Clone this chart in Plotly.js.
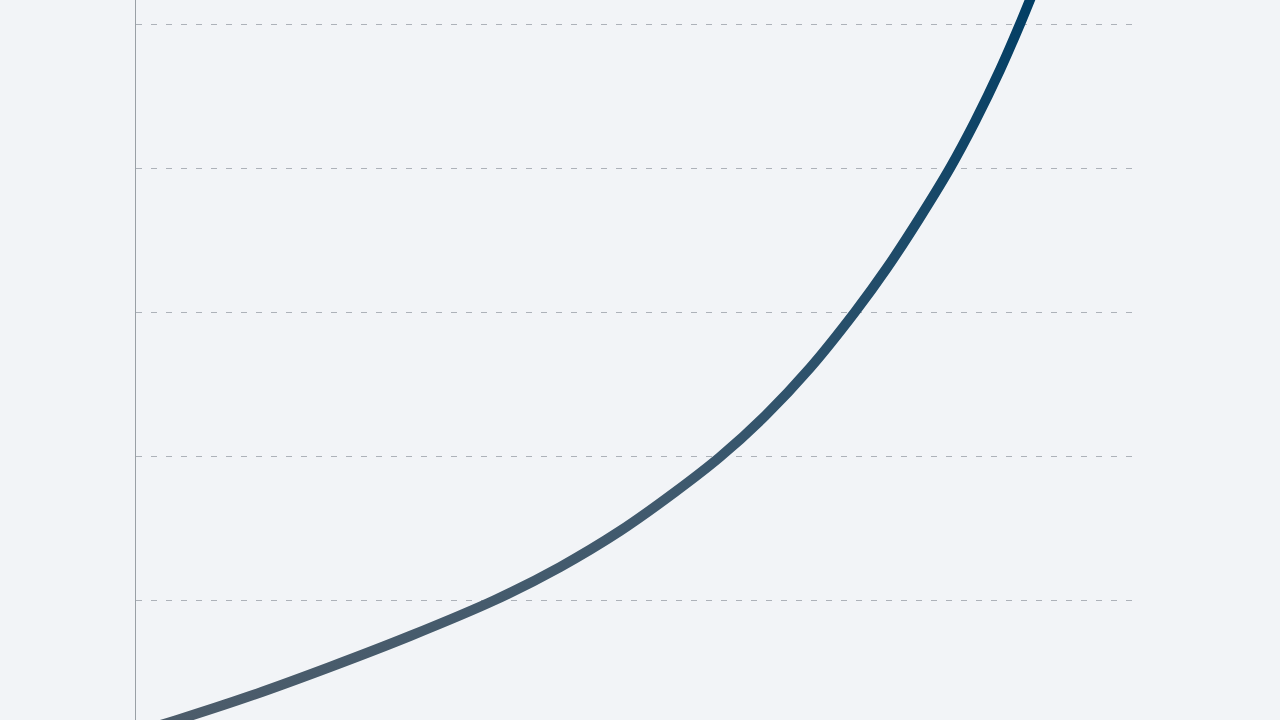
<!DOCTYPE html>
<html>
<head>
<meta charset="utf-8">
<script src="https://cdn.plot.ly/plotly-3.0.1.min.js"></script>
<style>
  html, body { margin: 0; padding: 0; background: #f2f4f7; overflow: hidden; }
  #chart { width: 1280px; height: 720px; }
</style>
</head>
<body>
<div id="chart"></div>
<script>
// curve (x: 0-100 across the plot, y: gridline units)
const xValues = [-0.60, 4.12, 11.45, 19.48, 27.51, 36.04, 42.57, 48.59, 54.12, 58.63,
	63.15, 67.67, 72.19, 75.40, 78.61, 81.73, 84.24, 86.75, 88.76, 90.76];
const yValues = [0.069, 0.167, 0.333, 0.535, 0.750, 1.000, 1.229, 1.479, 1.750, 1.993,
	2.278, 2.611, 3.000, 3.306, 3.646, 4.000, 4.323, 4.681, 5.000, 5.340];
const gridValues = [1, 2, 3, 4, 5];

const BG = '#f2f4f7';

Plotly.newPlot('chart', [{
	x: xValues,
	y: yValues,
	type: 'scatter',
	mode: 'lines',
	hoverinfo: 'skip',
	line: { color: '#2c4d66', width: 10, shape: 'spline', smoothing: 1 },
}], {
	width: 1280,
	height: 720,
	margin: { l: 136, r: 148, t: 0, b: 0 },
	paper_bgcolor: BG,
	plot_bgcolor: BG,
	showlegend: false,
	xaxis: {
		range: [0, 100],
		showgrid: false,
		zeroline: false,
		showline: false,
		showticklabels: false,
		ticks: '',
	},
	yaxis: {
		range: [0.1667, 5.1667],
		tickvals: gridValues,
		showticklabels: false,
		ticks: '',
		showgrid: true,
		gridcolor: '#adb2b9',
		gridwidth: 1,
		griddash: '6px,9px',
		zeroline: false,
		showline: true,
		linecolor: '#9aa0a6',
		linewidth: 1,
	},
}, { staticPlot: true, displayModeBar: false }).then((gd) => {
	// fade the line from grey-blue at the bottom to navy at the top
	const svg = gd.querySelector('.main-svg');
	const ns = 'http://www.w3.org/2000/svg';
	let defs = svg.querySelector('defs');
	if (!defs) {
		defs = document.createElementNS(ns, 'defs');
		svg.insertBefore(defs, svg.firstChild);
	}
	const grad = document.createElementNS(ns, 'linearGradient');
	grad.setAttribute('id', 'lineFade');
	grad.setAttribute('x1', '0');
	grad.setAttribute('y1', '1');
	grad.setAttribute('x2', '1');
	grad.setAttribute('y2', '0');
	[['0', '#4d5c6a'], ['0.45', '#405a6e'], ['1', '#003d64']].forEach(([off, col]) => {
		const stop = document.createElementNS(ns, 'stop');
		stop.setAttribute('offset', off);
		stop.setAttribute('stop-color', col);
		grad.appendChild(stop);
	});
	defs.appendChild(grad);
	gd.querySelectorAll('.scatterlayer .js-line').forEach((path) => {
		path.style.stroke = 'url(#lineFade)';
	});
});
</script>
</body>
</html>
